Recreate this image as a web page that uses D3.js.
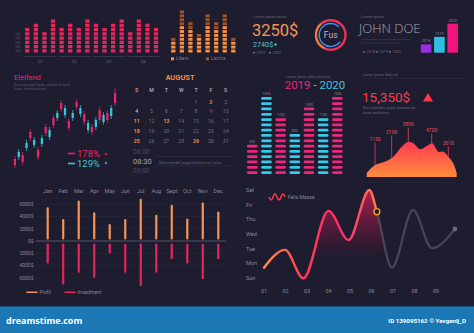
<!DOCTYPE html>
<html><head><meta charset="utf-8">
<script src="https://cdn.jsdelivr.net/npm/d3@7/dist/d3.min.js"></script>
<style>
html,body{margin:0;padding:0;background:#1e1c2f;overflow:hidden}
svg{display:block;font-family:Roboto,"Open Sans",sans-serif}
</style></head><body>
<svg id="c" width="474" height="333"></svg>
<script>
// ---------- DATA ----------
const eqGroups = ["Q1", "Q2", "Q3", "Q4"];
const eqValues = [6, 7, 5, 8, 6, 7, 6, 8, 7, 6, 7, 8, 5, 8, 7, 6];
const stackNames = ["Libero", "Lacinia"];
const liberoValues = [3, 7, 6, 4, 7, 6, 7, 3];
const laciniaValues = [1, 4, 2, 1, 3, 2, 3, 1];
const mainAmount = "3250$";
const subAmount = "2740$";
const fusValues = [68, 32];
const fusInner = 0.78;
const profileName = "JOHN DOE";
const miniYears = ["2018", "2019", "2020"];
const miniValues = [25, 48, 88];
const candleOpen  = [11,13,15,22,38,25,20,26,43,33,52,52,67,55,49,52,68,56,56,40,43,43,60,48,57,54,77];
const candleClose = [ 5,18, 8,27,32,30,13,32,37,40,45,57,61,62,42,57,63,62,48,47,38,50,50,55,50,62,67];
const candleHigh  = [14,21,18,30,41,33,23,35,46,43,55,60,70,65,52,60,71,65,59,50,46,53,63,58,60,65,82];
const candleLow   = [ 2,10, 5,19,29,22,10,23,34,30,42,49,58,52,39,49,60,53,45,37,35,40,47,45,47,51,64];
const pctLabels = ["178%", "129%"];
const monthName = "AUGUST";
const weekDays = ["S", "M", "T", "W", "T", "F", "S"];
const daysInMonth = 31;
const firstWeekday = 4;
const highlightDays = [2, 11, 13, 18, 25, 29];
const times = ["08:00", "08:30", "09:00"];
const yearBarsTitle = ["2019", "2020"];
const yearBarValues = [6, 15, 11, 8, 13, 11, 15];
const yearBarLabels = ["600", "1500", "1100", "800", "1300", "1100", "1500"];
const bigAmount = "15,350$";
const areaX = [0, 8.3, 18.3, 26.6, 35, 41.6, 46.6, 53.3, 60, 65.6, 71.6, 76.6, 81.6, 86.6, 90];
const areaY = [4, 12, 15.3, 20.3, 30.3, 35.3, 33.7, 27.7, 31, 33.7, 25.3, 25.3, 20.3, 13.7, 4];
const annX = [8.3, 25, 41.6, 65, 81.6];
const annLevel = [36, 43, 51, 45, 32];
const annText = ["1130", "2190", "3890", "4700", "2610"];
const months = ["Jan","Feb","Mar","Apr","May","Jun","Jul","Aug","Sept","Oct","Nov","Dec"];
const profit = [5300, 3400, 6400, 4500, 2600, 3400, 6700, 4100, 5700, 3500, 6100, 4600];
const investment = [3500, 6900, 5000, 5800, 1850, 5000, 7150, 5000, 2800, 3500, 6050, 2800];
const moneyTicks = [-6000, -4000, -2000, 0, 2000, 4000, 6000];
const dayNames = ["Sun", "Mon", "Tue", "Wed", "Thu", "Fri", "Sat"];
const xTicks = ["01","02","03","04","05","06","07","08","09"];
const lineX = [1, 1.98, 2.83, 4, 4.93, 5.9, 6.25, 6.95, 7.93, 8.81, 9.88];
const lineY = [0.72, 1.93, 0.0, 4.58, 2.6, 6.0, 4.53, 0.72, 4.65, 2.04, 3.35];
const markerIndex = 6;
const seriesName = "Felis Massa";

// ---------- SETUP ----------
const svg = d3.select("#c");
const BG = "#1e1c2f", PINK = "#e8286a", CYAN = "#3cc6dc", GRAY = "#8a8898";
svg.append("rect").attr("width", 474).attr("height", 333).attr("fill", BG);
const defs = svg.append("defs");
function lin(id, x1, y1, x2, y2, stops) {
  const g = defs.append("linearGradient").attr("id", id).attr("gradientUnits", "userSpaceOnUse")
    .attr("x1", x1).attr("y1", y1).attr("x2", x2).attr("y2", y2);
  stops.forEach(s => g.append("stop").attr("offset", s[0]).attr("stop-color", s[1]).attr("stop-opacity", s[2] == null ? 1 : s[2]));
}
function txt(x, y, t, size, fill, opts = {}) {
  return svg.append("text").attr("x", x).attr("y", y).text(t).attr("font-size", size).attr("fill", fill)
    .attr("text-anchor", opts.anchor || "start").attr("font-weight", opts.weight || 400)
    .attr("font-family", opts.family || null);
}

// ---------- A: equalizer bars ----------
const eqX = d3.scaleBand().domain(d3.range(eqValues.length)).range([23, 160.3]).paddingInner(0.5).paddingOuter(0.25);
const eqY = d3.scaleLinear().domain([0, 8]).range([53, 19]);
const segH = eqY(0) - eqY(1);
d3.range(5).forEach(k => svg.append("rect").attr("x", 15.5).attr("y", eqY(k + 1) + 0.6).attr("width", 5)
  .attr("height", segH - 1.2).attr("fill", "#32304a"));
eqValues.forEach((v, i) => {
  d3.range(v).forEach(k => svg.append("rect").attr("x", eqX(i)).attr("y", eqY(k + 1) + 0.5)
    .attr("width", eqX.bandwidth()).attr("height", segH - 1).attr("fill", "#e4285e"));
});
eqGroups.forEach((g, gi) => {
  const x0 = eqX(gi * 4) - 1, x1 = eqX(gi * 4 + 3) + eqX.bandwidth() + 1;
  svg.append("line").attr("x1", x0).attr("x2", x1).attr("y1", 56.5).attr("y2", 56.5).attr("stroke", "#45435a").attr("stroke-width", 0.6);
  txt((x0 + x1) / 2, 62.5, g, 4, "#6a6880", { anchor: "middle" });
});

// ---------- B: stacked orange bars ----------
const stX = d3.scaleBand().domain(d3.range(liberoValues.length)).range([169, 237.6]).paddingInner(0.5).paddingOuter(0.25);
const stY = d3.scaleLinear().domain([0, 11]).range([53, 10]);
const sH = stY(0) - stY(1);
liberoValues.forEach((v, i) => {
  const tot = v + laciniaValues[i];
  d3.range(tot).forEach(k => svg.append("rect").attr("x", stX(i)).attr("y", stY(k + 1) + 0.5)
    .attr("width", stX.bandwidth()).attr("height", sH - 1).attr("fill", k < v ? "#f5924a" : "#9a5530"));
});
[["#f5924a", 171], ["#9a5530", 206]].forEach((c, i) => {
  svg.append("rect").attr("x", c[1]).attr("y", 57.3).attr("width", 3).attr("height", 3).attr("fill", c[0]);
  txt(c[1] + 5, 60.3, stackNames[i], 4.5, "#7a7890");
});

// ---------- C: amount ----------
txt(253, 17.5, "Lorem ipsum dolor", 4, "#6a6880");
txt(252, 36, mainAmount, 16.5, "#f5964f");
txt(253, 47, subAmount, 7.2, "#4cc2e0");
svg.append("circle").attr("cx", 275.5).attr("cy", 44.5).attr("r", 1.2).attr("fill", "#4cc2e0");
[["2019", 254], ["2020", 270]].forEach(d => {
  svg.append("circle").attr("cx", d[1]).attr("cy", 52.6).attr("r", 0.9).attr("fill", "#8a8898");
  txt(d[1] + 2.5, 54, d[0], 3.8, "#6a6880");
});

// ---------- D: donut ----------
lin("gInner", 318, 35, 343, 35, [[0, "#3a8ff0"], [1, "#a93af0"]]);
const dc = svg.append("g").attr("transform", "translate(330.7,35)");
const pie = d3.pie().sort(null).startAngle(-0.7).endAngle(-0.7 + 2 * Math.PI);
const outerArc = d3.arc().innerRadius(13.6).outerRadius(16);
dc.selectAll(".o").data(pie(fusValues)).join("path").attr("d", outerArc).attr("fill", (d, i) => i === 0 ? "#f0325a" : "#f5783c");
dc.append("path").attr("d", d3.arc().innerRadius(10.8).outerRadius(12.2).startAngle(2.2).endAngle(2.2 + fusInner * 2 * Math.PI)())
  .attr("fill", "url(#gInner)");
dc.append("text").attr("text-anchor", "middle").attr("dy", "0.35em").attr("font-size", 8.5).attr("fill", "#b8b6c8").text("Fus");

// ---------- E: profile ----------
txt(361, 17.5, "Lorem ipsum", 4, "#6a6880");
txt(359, 33, profileName, 13, "#a8a6b8", { weight: 300, family: "'Open Sans',sans-serif" });
svg.append("line").attr("x1", 361).attr("x2", 410).attr("y1", 39.5).attr("y2", 39.5).attr("stroke", "#3e3c54").attr("stroke-width", 0.6);
svg.append("line").attr("x1", 361).attr("x2", 400).attr("y1", 43).attr("y2", 43).attr("stroke", "#3e3c54").attr("stroke-width", 0.6);
[["2018", 364], ["2019", 377], ["2020", 390]].forEach(d => {
  svg.append("circle").attr("cx", d[1]).attr("cy", 51.8).attr("r", 0.9).attr("fill", "#8a8898");
  txt(d[1] + 2.5, 53.2, d[0], 3.8, "#6a6880");
});

// ---------- F: mini bars ----------
const mX = d3.scaleBand().domain(miniYears).range([419.5, 459.3]).paddingInner(0.2).paddingOuter(0.1);
const mY = d3.scaleLinear().domain([0, 100]).range([52.7, 19.7]);
const miniColors = ["#9b2fe0", "#2fbfe3", "#f0157c"];
miniYears.forEach((y, i) => {
  svg.append("rect").attr("x", mX(y)).attr("y", mY(miniValues[i])).attr("width", mX.bandwidth())
    .attr("height", mY(0) - mY(miniValues[i])).attr("fill", miniColors[i]);
  txt(mX(y) + mX.bandwidth() / 2, mY(miniValues[i]) - 2, y, 3.6, "#8a8898", { anchor: "middle" });
});

// ---------- G: candles ----------
txt(14, 80, "Eleifend", 7.5, PINK);
txt(14, 86, "Duis imperdiet ligula, ultrices sit amet", 3.4, "#5e5c74");
txt(14, 90, "lacus, vestibulum nec", 3.4, "#5e5c74");
const cX = d3.scaleBand().domain(d3.range(candleOpen.length)).range([13, 117]).paddingInner(0.42).paddingOuter(0.21);
const cY = d3.scaleLinear().domain([0, 80]).range([170, 90]);
candleOpen.forEach((o, i) => {
  const c = candleClose[i], col = c > o ? CYAN : PINK;
  const cx = cX(i) + cX.bandwidth() / 2;
  svg.append("line").attr("x1", cx).attr("x2", cx).attr("y1", cY(candleHigh[i])).attr("y2", cY(candleLow[i]))
    .attr("stroke", col).attr("stroke-width", 0.7);
  svg.append("rect").attr("x", cX(i)).attr("width", cX.bandwidth()).attr("y", cY(Math.max(o, c)))
    .attr("height", Math.abs(cY(o) - cY(c))).attr("fill", col);
});
[[PINK, 157, 1], [CYAN, 167, -1]].forEach((d, i) => {
  svg.append("line").attr("x1", 68).attr("x2", 75).attr("y1", d[1] - 3.5).attr("y2", d[1] - 3.5).attr("stroke", d[0]).attr("stroke-width", 1.6);
  txt(77, d[1], pctLabels[i], 9.5, d[0]);
  const ty = d[1] - 3.5;
  svg.append("path").attr("d", d[2] > 0 ? `M104.5,${ty + 1.2}L107.5,${ty + 1.2}L106,${ty - 1.3}Z` : `M104.5,${ty - 1.2}L107.5,${ty - 1.2}L106,${ty + 1.3}Z`).attr("fill", d[0]);
});

// ---------- H: calendar ----------
txt(180, 80, monthName, 7.5, "#f08a4a", { anchor: "middle", weight: 700 });
const calX = d3.scalePoint().domain(d3.range(7)).range([136.7, 225.7]);
const calY = d3.scalePoint().domain(d3.range(5)).range([101.7, 140.7]);
weekDays.forEach((w, i) => txt(calX(i), 92, w, 5.2, i === 0 ? "#f08a4a" : "#a09eb0", { anchor: "middle", weight: 700 }));
d3.range(1, daysInMonth + 1).forEach(d => {
  const pos = d - 1 + firstWeekday, col = pos % 7, row = Math.floor(pos / 7);
  const hl = highlightDays.includes(d);
  txt(calX(col), calY(row) + 2, d, 5.2, hl ? "#f08a4a" : (d === 4 ? "#d8d6e4" : "#6e6c84"), { anchor: "middle", weight: hl ? 700 : 400 });
});
times.forEach((t, i) => txt(133, 154 + i * 9.5, t, i === 1 ? 7.5 : 6.5, i === 1 ? "#a8a6b8" : "#4a485e"));
[156.5, 166].forEach(y => svg.append("line").attr("x1", 156).attr("x2", 232).attr("y1", y).attr("y2", y).attr("stroke", "#33314a").attr("stroke-width", 0.6));
txt(159, 163.5, "Duis imperdiet, augue pharetra non, lacus", 3.4, "#6a6880");

// ---------- I: 2019-2020 bars ----------
txt(308, 77.5, "Lorem ipsum dolor sit amet", 3.6, "#6a6880", { anchor: "middle" });
const tt = svg.append("text").attr("x", 315).attr("y", 89).attr("text-anchor", "middle").attr("font-size", 11.5);
tt.append("tspan").text(yearBarsTitle[0]).attr("fill", "#f0237a");
tt.append("tspan").text(" - ").attr("fill", "#b0aec0");
tt.append("tspan").text(yearBarsTitle[1]).attr("fill", CYAN);
const yX = d3.scaleBand().domain(d3.range(yearBarValues.length)).range([245.2, 344.4]).paddingInner(0.25).paddingOuter(0.125);
const yY = d3.scaleLinear().domain([0, 16]).range([176.5, 91.7]);
const yStep = yY(0) - yY(1);
yearBarValues.forEach((v, i) => {
  const col = i % 2 === 0 ? "#f0267a" : "#38c8e8";
  d3.range(v).forEach(k => svg.append("rect").attr("x", yX(i)).attr("y", yY(k + 1)).attr("width", yX.bandwidth())
    .attr("height", yStep * 0.52).attr("rx", 1.3).attr("fill", col));
  txt(yX(i) + yX.bandwidth() / 2, yY(v) - 2, yearBarLabels[i], 3.5, "#8a8898", { anchor: "middle" });
});

// ---------- J: 15,350$ area ----------
txt(363, 75.5, "Lorem ipsum dolor sit", 3.6, "#6a6880");
svg.append("line").attr("x1", 363).attr("x2", 465).attr("y1", 78.5).attr("y2", 78.5).attr("stroke", "#33314a").attr("stroke-width", 0.5);
txt(362, 102, bigAmount, 13.5, "#ff3a4c");
svg.append("path").attr("d", "M423,101.5L433,101.5L428,93Z").attr("fill", "#ff3a4c");
txt(363, 109, "Duis imperdiet, augue pharetra non", 3.4, "#6a6880");
txt(363, 113.5, "lacus vestibulum", 3.4, "#6a6880");
lin("gArea", 0, 137, 0, 177, [[0, "#ff2d55"], [1, "#ff8c3c"]]);
const aX = d3.scaleLinear().domain([0, 90]).range([366.7, 456.7]);
const aY = d3.scaleLinear().domain([0, 40]).range([177, 137]);
const areaGen = d3.area().x((d, i) => aX(areaX[i])).y0(aY(0)).y1(d => aY(d)).curve(d3.curveCatmullRom);
const lineOnArea = d3.line().x((d, i) => aX(areaX[i])).y(d => aY(d)).curve(d3.curveCatmullRom);
svg.append("path").attr("d", areaGen(areaY)).attr("fill", "url(#gArea)");
const guide = svg.append("path").attr("d", lineOnArea(areaY)).attr("fill", "none").attr("stroke", "none");
const gl = guide.node().getTotalLength();
function surfaceY(px) {
  let lo = 0, hi = gl;
  for (let k = 0; k < 30; k++) { const m = (lo + hi) / 2; if (guide.node().getPointAtLength(m).x < px) lo = m; else hi = m; }
  return guide.node().getPointAtLength(lo).y;
}
annX.forEach((a, i) => {
  const px = aX(a);
  svg.append("line").attr("x1", px).attr("x2", px).attr("y1", aY(annLevel[i]) + 1.5).attr("y2", surfaceY(px))
    .attr("stroke", "#e8405a").attr("stroke-width", 0.8);
  txt(px, aY(annLevel[i]), annText[i], 5, "#e8505e", { anchor: "middle" });
});

// ---------- K: profit / investment ----------
const pX = d3.scalePoint().domain(months).range([47.7, 218.3]);
const pY = d3.scaleLinear().domain([-8000, 8000]).range([290.2, 191.8]);
moneyTicks.forEach(t => {
  svg.append("line").attr("x1", 36).attr("x2", 226).attr("y1", pY(t)).attr("y2", pY(t))
    .attr("stroke", t === 0 ? "#55536a" : "#2c2a40").attr("stroke-width", t === 0 ? 1 : 0.6);
  txt(33.5, pY(t) + 1.8, Math.abs(t) + "$", 5, GRAY, { anchor: "end" });
});
months.forEach((m, i) => {
  txt(pX(m), 192.5, m, 5.5, GRAY, { anchor: "middle" });
  svg.append("line").attr("x1", pX(m)).attr("x2", pX(m)).attr("y1", pY(0) - 2.5).attr("y2", pY(profit[i]))
    .attr("stroke", "#f5945a").attr("stroke-width", 2.2).attr("stroke-linecap", "round");
  svg.append("line").attr("x1", pX(m)).attr("x2", pX(m)).attr("y1", pY(0) + 3.5).attr("y2", pY(-investment[i]))
    .attr("stroke", "#e8245e").attr("stroke-width", 2.2).attr("stroke-linecap", "round");
});
[["#f5945a", 27, "Profit"], ["#e8245e", 65, "Investment"]].forEach(d => {
  svg.append("line").attr("x1", d[1]).attr("x2", d[1] + 10).attr("y1", 292.3).attr("y2", 292.3).attr("stroke", d[0]).attr("stroke-width", 1.6).attr("stroke-linecap", "round");
  txt(d[1] + 12.5, 294, d[2], 4.8, "#8a8898");
});

// ---------- L: weekday line ----------
const wX = d3.scaleLinear().domain([1, 9]).range([264, 436]);
const wY = d3.scaleLinear().domain([0, 6]).range([278.3, 190]);
dayNames.forEach((d, i) => txt(246, wY(i) + 1.8, d, 5.5, GRAY));
xTicks.forEach((t, i) => txt(wX(i + 1), 293, t, 5.5, GRAY, { anchor: "middle" }));
const pts = lineX.map((x, i) => [wX(x), wY(lineY[i])]);
const lineGen = d3.line().curve(d3.curveMonotoneX);
const markX = pts[markerIndex][0];
defs.append("clipPath").attr("id", "cLeft").append("rect").attr("x", 250).attr("y", 180).attr("width", markX - 250).attr("height", 110);
defs.append("clipPath").attr("id", "cRight").append("rect").attr("x", markX).attr("y", 180).attr("width", 100).attr("height", 110);
defs.append("clipPath").attr("id", "cArea").append("rect").attr("x", 290).attr("y", 180).attr("width", markX + 6 - 290).attr("height", 110);
lin("gLineFill", 0, 190, 0, 258, [[0, "#d0204f", 0.85], [0.6, "#a01848", 0.35], [1, "#801040", 0]]);
lin("gLine", 264, 0, 380, 0, [[0, "#ff8c4a"], [0.35, "#ff3a5a"], [0.7, "#ff2e68"], [1, "#ff8a50"]]);
const areaW = d3.area().curve(d3.curveMonotoneX).y0(wY(0));
svg.append("path").attr("d", areaW(pts)).attr("fill", "url(#gLineFill)").attr("clip-path", "url(#cArea)");
svg.append("path").attr("d", lineGen(pts)).attr("fill", "none").attr("stroke", "#6a687c").attr("stroke-opacity", 0.55)
  .attr("stroke-width", 2.2).attr("clip-path", "url(#cRight)");
svg.append("path").attr("d", lineGen(pts)).attr("fill", "none").attr("stroke", "url(#gLine)")
  .attr("stroke-width", 2.4).attr("stroke-linecap", "round").attr("clip-path", "url(#cLeft)");
svg.append("circle").attr("cx", pts[markerIndex][0]).attr("cy", pts[markerIndex][1]).attr("r", 3)
  .attr("fill", BG).attr("stroke", "#f5a030").attr("stroke-width", 1.4);
const last = pts[pts.length - 1];
svg.append("circle").attr("cx", last[0]).attr("cy", last[1]).attr("r", 2.4).attr("fill", "#6a687c");
const wave = d3.range(0, 17, 1).map(i => [269 + i, 197 + 3 * Math.sin(i / 16 * Math.PI * 4)]);
svg.append("path").attr("d", d3.line().curve(d3.curveCatmullRom)(wave)).attr("fill", "none").attr("stroke", "#ff3a50").attr("stroke-width", 1.4);
txt(288, 199, seriesName, 5, "#8a8898");

// ---------- M: footer ----------
svg.append("rect").attr("x", 0).attr("y", 306.5).attr("width", 474).attr("height", 27).attr("fill", "#1b78b4");
txt(6, 324, "dreamstime.com", 9, "#ffffff", { weight: 700, family: "'Open Sans',sans-serif" });
txt(466, 322.5, "ID 139095162 © Yevgenij_D", 6.2, "#ffffff", { anchor: "end", weight: 700 });
</script>
</body></html>
